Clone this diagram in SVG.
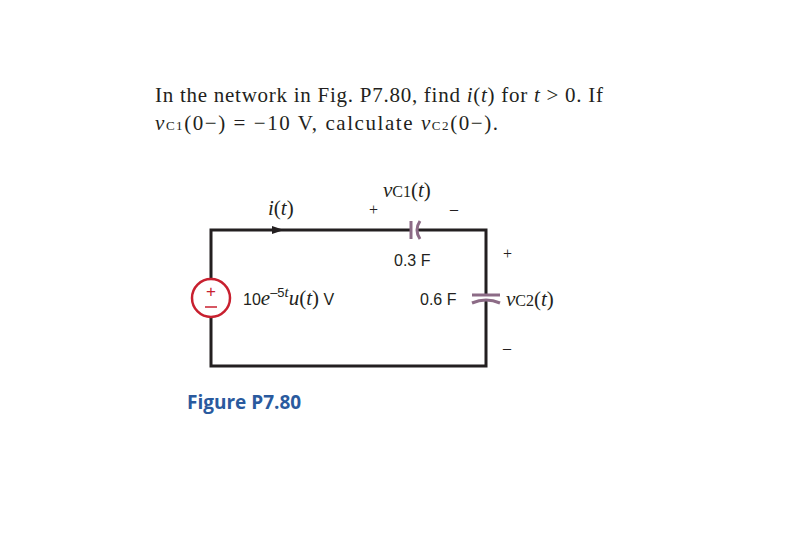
<svg xmlns="http://www.w3.org/2000/svg" width="797" height="535" viewBox="0 0 797 535">
<style>
.t{font-family:"Liberation Serif",serif;font-size:21px;fill:#231f20}
.i{font-style:italic}
.s{font-family:"Liberation Sans",sans-serif;font-size:16px;fill:#231f20}
.w{stroke:#231f20;stroke-width:3;fill:none}
.c{stroke:#8c6b86;stroke-width:3;fill:none}
</style>
<rect width="797" height="535" fill="#fff"/>
<text class="t" x="155" y="102" textLength="448" lengthAdjust="spacing">In the network in Fig. P7.80, find <tspan class="i">i</tspan>(<tspan class="i">t</tspan>) for <tspan class="i">t</tspan> &gt; 0. If</text>
<text class="t" x="155" y="130" textLength="343" lengthAdjust="spacing"><tspan class="i">v</tspan><tspan style="font-size:13px">C1</tspan>(0−) = −10 V, calculate <tspan class="i">v</tspan><tspan style="font-size:13px">C2</tspan>(0−).</text>
<g id="connectors">
<path class="w" d="M211,278 V230 H410 M418,230 H486 V295 M486,301 V366 H211 V318"/>
<path d="M272,226 L284,230 L272,234 Z" fill="#231f20"/>
</g>
<g id="source">
<circle cx="211" cy="298" r="19" fill="#fff" stroke="#c8202f" stroke-width="2.5"/>
<text x="211" y="297" text-anchor="middle" font-family="Liberation Sans,sans-serif" font-size="17" fill="#c8202f">+</text>
<line x1="205" y1="307" x2="217" y2="307" stroke="#c8202f" stroke-width="1.5"/>
<text class="s" x="243" y="305">10<tspan style="font-family:'Liberation Serif';font-style:italic;font-size:21px">e</tspan><tspan style="font-size:13px" dy="-8">–5<tspan style="font-family:'Liberation Serif';font-style:italic;font-size:15px">t</tspan></tspan><tspan dy="8" style="font-family:'Liberation Serif';font-style:italic;font-size:21px">u</tspan><tspan style="font-family:'Liberation Serif';font-size:21px">(<tspan font-style="italic">t</tspan>)</tspan> V</text>
</g>
<g id="C1">
<line class="c" x1="411" y1="221" x2="411" y2="239"/>
<path class="c" d="M420,221 Q414,230 420,239"/>
<text class="t i" x="383" y="197">v<tspan style="font-style:normal;font-size:16px">C1</tspan><tspan font-style="normal">(</tspan>t<tspan font-style="normal">)</tspan></text>
<text class="t" x="369" y="215" style="font-size:16px">+</text>
<text class="t" x="450" y="214" style="font-size:16px">–</text>
<text class="s" x="394" y="266">0.3 F</text>
</g>
<g id="C2">
<line class="c" x1="472" y1="295" x2="500" y2="295"/>
<path class="c" d="M472,303 Q486,297 500,303"/>
<text class="s" x="420" y="305">0.6 F</text>
<text class="t i" x="506" y="306">v<tspan style="font-style:normal;font-size:16px">C2</tspan><tspan font-style="normal">(</tspan>t<tspan font-style="normal">)</tspan></text>
<text class="t" x="503" y="259" style="font-size:16px">+</text>
<text class="t" x="503" y="353" style="font-size:16px">–</text>
</g>
<g id="i"><text class="t i" x="268" y="215">i<tspan font-style="normal">(</tspan>t<tspan font-style="normal">)</tspan></text></g>
<text x="187" y="409" font-family="Open Sans,sans-serif" font-weight="bold" font-size="19" fill="#2a5a9e">Figure P7.80</text>
</svg>
